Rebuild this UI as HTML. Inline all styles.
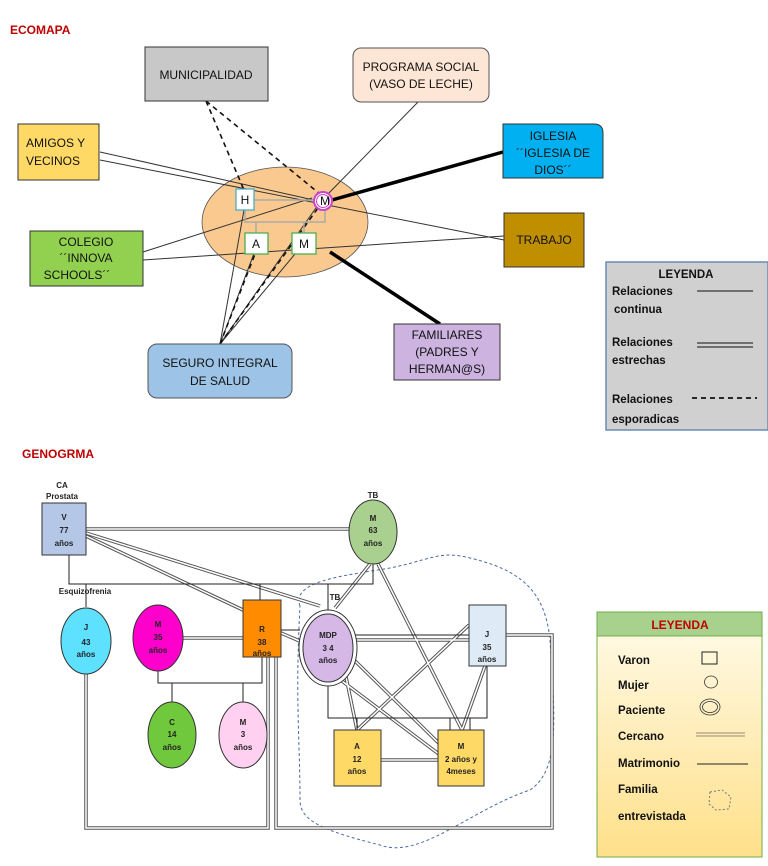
<!DOCTYPE html>
<html><head><meta charset="utf-8"><style>
html,body{margin:0;padding:0;background:#fff}
svg{display:block;font-family:"Liberation Sans",sans-serif}
.t{font-size:12px;fill:#111;text-anchor:middle}
.s{font-size:8px;font-weight:bold;fill:#222;text-anchor:middle}
.l{font-size:11.5px;font-weight:bold;fill:#111}
.d1{stroke:#555;stroke-width:3.5;fill:none}
.d2{stroke:#fff;stroke-width:1.5;fill:none}
</style></head><body>
<svg width="768" height="866" viewBox="0 0 768 866">
<defs>
<linearGradient id="g" x1="0" y1="0" x2="0" y2="1"><stop offset="0" stop-color="#fffbea"/><stop offset="1" stop-color="#ffe08a"/></linearGradient>
</defs>
<text x="10" y="34" font-size="12" font-weight="bold" fill="#c00000">ECOMAPA</text>
<text x="22" y="458" font-size="12" font-weight="bold" fill="#c00000">GENOGRMA</text>

<ellipse cx="285" cy="222" rx="83" ry="55" fill="#f9c98f" stroke="#555" stroke-width="0.8"/>
<g stroke="#333" stroke-width="1" fill="none">
<line x1="100" y1="152" x2="318" y2="201"/>
<line x1="100" y1="160" x2="504" y2="240"/>
<line x1="143" y1="252" x2="312" y2="198"/>
<line x1="143" y1="260" x2="504" y2="236"/>
<line x1="220" y1="344" x2="244" y2="210"/>
<line x1="220" y1="344" x2="256" y2="248"/>
<line x1="220" y1="344" x2="300" y2="248"/>
<line x1="220" y1="344" x2="318" y2="205"/>
<line x1="420" y1="100" x2="326" y2="196"/>
</g>
<g stroke="#111" stroke-width="1.6" stroke-dasharray="5,4" fill="none">
<line x1="206" y1="101" x2="244" y2="190"/>
<line x1="206" y1="101" x2="320" y2="194"/>
<line x1="220" y1="344" x2="318" y2="208"/>
<line x1="220" y1="344" x2="255" y2="254"/>
</g>
<g stroke="#000" stroke-width="3.5">
<line x1="332" y1="200" x2="503" y2="152"/>
<line x1="330" y1="252" x2="440" y2="324"/>
</g>
<g stroke="#aaa" stroke-width="1.5" fill="none">
<polyline points="254,200 315,200"/><polyline points="245,210 245,222 325,222 325,208"/>
<line x1="256" y1="222" x2="256" y2="233"/><line x1="304" y1="222" x2="304" y2="233"/>
</g>
<rect x="236" y="189" width="18" height="21" fill="#fff" stroke="#4bacc6" stroke-width="1.3"/>
<text x="245" y="204" class="t" font-size="10">H</text>
<circle cx="323" cy="201" r="9" fill="#fff" stroke="#cc44cc" stroke-width="2"/>
<circle cx="323" cy="201" r="6.5" fill="none" stroke="#cc44cc" stroke-width="1"/>
<text x="325" y="205" class="t" font-size="10">M</text>
<rect x="245" y="233" width="23" height="21" fill="#fff" stroke="#4caf50" stroke-width="1.3"/>
<text x="256" y="248" class="t" font-size="10">A</text>
<rect x="292" y="233" width="24" height="21" fill="#fff" stroke="#4caf50" stroke-width="1.3"/>
<text x="304" y="248" class="t" font-size="10">M</text>

<rect x="145" y="47" width="123" height="54" fill="#c8c8c8" stroke="#333"/>
<text x="206" y="79" class="t">MUNICIPALIDAD</text>
<rect x="353" y="48" width="136" height="54" rx="8" fill="#fde6d6" stroke="#555"/>
<text x="421" y="71" class="t">PROGRAMA SOCIAL</text><text x="421" y="88" class="t">(VASO DE LECHE)</text>
<rect x="18" y="124" width="81" height="56" fill="#ffd966" stroke="#333"/>
<text x="26" y="147" class="t" style="text-anchor:start">AMIGOS Y</text><text x="26" y="165" class="t" style="text-anchor:start">VECINOS</text>
<path d="M503 124 H594 Q603 124 603 133 V178 H503 Z" fill="#00b0f0" stroke="#333"/>
<text x="553" y="140" class="t">IGLESIA</text><text x="553" y="157" class="t">´´IGLESIA DE</text><text x="553" y="174" class="t">DIOS´´</text>
<rect x="504" y="213" width="80" height="54" fill="#bf8f00" stroke="#333"/>
<text x="544" y="244" class="t">TRABAJO</text>
<rect x="30" y="231" width="113" height="55" fill="#92d050" stroke="#333"/>
<text x="86" y="246" class="t">COLEGIO</text><text x="86" y="262" class="t">´´INNOVA</text><text x="77" y="279" class="t">SCHOOLS´´</text>
<rect x="394" y="324" width="106" height="56" fill="#ccb3e0" stroke="#333"/>
<text x="447" y="339" class="t">FAMILIARES</text><text x="447" y="356" class="t">(PADRES Y</text><text x="447" y="373" class="t">HERMAN@S)</text>
<rect x="148" y="344" width="144" height="54" rx="9" fill="#9dc3e6" stroke="#555"/>
<text x="220" y="367" class="t">SEGURO INTEGRAL</text><text x="220" y="385" class="t">DE SALUD</text>

<rect x="606" y="262" width="162" height="168" fill="#d0d0d0" stroke="#6a8bb5" stroke-width="1.5"/>
<text x="686" y="278" class="l" text-anchor="middle">LEYENDA</text>
<text x="612" y="295" class="l">Relaciones</text><text x="614" y="313" class="l">continua</text>
<line x1="697" y1="291" x2="753" y2="291" stroke="#111"/>
<text x="612" y="346" class="l">Relaciones</text><text x="612" y="364" class="l">estrechas</text>
<line x1="697" y1="343" x2="753" y2="343" stroke="#111"/><line x1="697" y1="347" x2="753" y2="347" stroke="#111"/>
<text x="612" y="403" class="l">Relaciones</text><text x="612" y="423" class="l">esporadicas</text>
<line x1="692" y1="398" x2="757" y2="398" stroke="#111" stroke-width="1.8" stroke-dasharray="5,4"/>

<path d="M300 606 C290 580 350 575 390 568 C430 560 440 550 470 558 C520 570 545 590 550 640 C555 720 560 770 530 790 C470 810 420 860 380 845 C320 830 300 820 300 800 C300 740 295 700 300 606 Z" fill="none" stroke="#4a6aa0" stroke-width="1" stroke-dasharray="3,2.5"/>

<path class="d1" d="M86 529 H350 M86 536 L243 610 M86 533 L320 606 M243 638 H183 M281 633 L302 642 M353 640 H469 M352 658 L460 764 M345 672 L357 730 M338 678 L460 770 M469 625 L357 730 M485 666 L462 730 M370 564 L335 608 M378 564 L462 730 M381 760 H438 M86 674 V828 H268 V657 M276 657 V828 H552 V635 H506"/>
<path class="d2" d="M86 529 H350 M86 536 L243 610 M86 533 L320 606 M243 638 H183 M281 633 L302 642 M353 640 H469 M352 658 L460 764 M345 672 L357 730 M338 678 L460 770 M469 625 L357 730 M485 666 L462 730 M370 564 L335 608 M378 564 L462 730 M381 760 H438 M86 674 V828 H268 V657 M276 657 V828 H552 V635 H506"/>
<g stroke="#222" stroke-width="1" fill="none">
<path d="M69 555 V584 H373 V564 M86 584 V607 M260 584 V600 M328 584 V610 M353 635 H469"/>
<path d="M158 671 V683 H262 V657 M172 683 V702 M243 683 V702"/>
<path d="M328 686 V718 H487 V666 M357 718 V730 M450 718 V730 M470 718 V730"/>
<path d="M281 630 H300"/>
</g>

<text x="62" y="488" class="s">CA</text><text x="62" y="499" class="s">Prostata</text>
<rect x="42" y="503" width="44" height="52" fill="#b4c7e7" stroke="#333"/>
<text x="64" y="520" class="s">V</text><text x="64" y="533" class="s">77</text><text x="64" y="546" class="s">años</text>
<text x="373" y="498" class="s">TB</text>
<ellipse cx="373" cy="532" rx="24" ry="32" fill="#a9d08e" stroke="#333"/>
<text x="373" y="521" class="s">M</text><text x="373" y="533" class="s">63</text><text x="373" y="546" class="s">años</text>
<text x="85" y="594" class="s" font-size="7">Esquizofrenia</text>
<ellipse cx="86" cy="641" rx="25" ry="33" fill="#5ee0ff" stroke="#333"/>
<text x="86" y="630" class="s">J</text><text x="86" y="645" class="s">43</text><text x="86" y="657" class="s">años</text>
<ellipse cx="158" cy="638" rx="25" ry="33" fill="#ff00cc" stroke="#333"/>
<text x="158" y="627" class="s">M</text><text x="158" y="640" class="s">35</text><text x="158" y="653" class="s">años</text>
<rect x="243" y="600" width="38" height="57" fill="#ff8c00" stroke="#333"/>
<text x="262" y="632" class="s">R</text><text x="262" y="645" class="s">38</text><text x="262" y="656" class="s">años</text>
<text x="335" y="600" class="s">TB</text>
<ellipse cx="328" cy="648" rx="29" ry="38" fill="#fff" stroke="#333"/>
<ellipse cx="328" cy="648" rx="25" ry="34" fill="#d5b8e6" stroke="#333"/>
<text x="328" y="638" class="s">MDP</text><text x="328" y="651" class="s">3 4</text><text x="328" y="663" class="s">años</text>
<rect x="469" y="605" width="37" height="61" fill="#deebf7" stroke="#333"/>
<text x="487" y="637" class="s">J</text><text x="487" y="650" class="s">35</text><text x="487" y="662" class="s">años</text>
<ellipse cx="172" cy="735" rx="24" ry="33" fill="#70c93c" stroke="#333"/>
<text x="172" y="725" class="s">C</text><text x="172" y="737" class="s">14</text><text x="172" y="750" class="s">años</text>
<ellipse cx="243" cy="735" rx="24" ry="33" fill="#ffd0f0" stroke="#333"/>
<text x="243" y="725" class="s">M</text><text x="243" y="737" class="s">3</text><text x="243" y="750" class="s">años</text>
<rect x="334" y="730" width="47" height="56" fill="#ffd966" stroke="#333"/>
<text x="357" y="749" class="s">A</text><text x="357" y="762" class="s">12</text><text x="357" y="774" class="s">años</text>
<rect x="438" y="730" width="46" height="56" fill="#ffd966" stroke="#333"/>
<text x="461" y="749" class="s">M</text><text x="461" y="762" class="s">2 años y</text><text x="461" y="774" class="s">4meses</text>

<rect x="597" y="612" width="165" height="245" fill="url(#g)" stroke="#70ad47"/>
<rect x="597" y="612" width="165" height="24" fill="#a9d18e" stroke="#70ad47"/>
<text x="680" y="629" font-size="12" font-weight="bold" fill="#c00000" text-anchor="middle">LEYENDA</text>
<text x="618" y="664" class="l">Varon</text><rect x="702" y="652" width="15" height="12" fill="none" stroke="#222"/>
<text x="618" y="689" class="l">Mujer</text><ellipse cx="711" cy="682" rx="6.5" ry="6" fill="none" stroke="#333" stroke-width="0.8"/>
<text x="618" y="714" class="l">Paciente</text><ellipse cx="710" cy="707" rx="10" ry="8" fill="none" stroke="#333" stroke-width="0.8"/><ellipse cx="710" cy="707" rx="7.5" ry="5.5" fill="none" stroke="#333" stroke-width="0.8"/>
<text x="618" y="740" class="l">Cercano</text><line x1="696" y1="733" x2="745" y2="733" stroke="#998877"/><line x1="696" y1="736" x2="745" y2="736" stroke="#998877"/>
<text x="618" y="767" class="l">Matrimonio</text><line x1="697" y1="764" x2="748" y2="764" stroke="#222"/>
<text x="618" y="793" class="l">Familia</text><text x="618" y="820" class="l">entrevistada</text>
<path d="M710 792 L722 790 L731 797 L729 809 L716 810 L709 804 Z" fill="none" stroke="#777" stroke-dasharray="2,2"/>
</svg>
</body></html>
